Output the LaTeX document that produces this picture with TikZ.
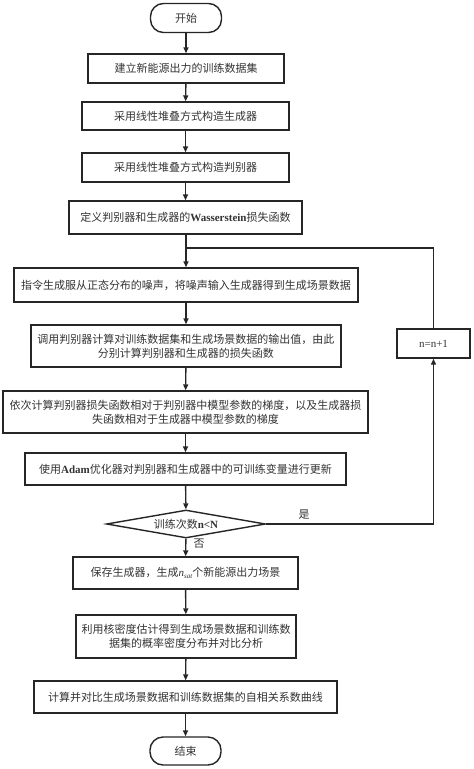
\documentclass[tikz,border=0pt]{standalone}
\usepackage{fontspec}
\newfontfamily\cjk{Noto Sans CJK SC}
\newfontfamily\tnr{Liberation Serif}
\usetikzlibrary{arrows.meta,shapes.geometric}
\begin{document}
\begin{tikzpicture}[x=1pt,y=-1pt,
  base/.style={draw=black!85,line width=1.4pt,inner sep=0pt,align=center,text=black!80,font=\cjk\fontsize{11}{14}\selectfont},
  procbox/.style={base,rectangle},
  term/.style={base,rectangle,rounded corners=13pt},
  decision/.style={base,diamond,aspect=5.7},
  arr/.style={line width=1.4pt,draw=black!85,-{Triangle[length=6pt,width=5pt]}},
  ln/.style={line width=1.4pt,draw=black!85},
  lbl/.style={text=black!80,font=\cjk\fontsize{11}{12}\selectfont,inner sep=0pt}]
\useasboundingbox[fill=white] (0,0) rectangle (474,769);

\node[term,minimum width=71pt,minimum height=29pt] (start) at (186,18) {开始};
\node[procbox,minimum width=196pt,minimum height=29pt] (b1) at (186,68.5) {建立新能源出力的训练数据集};
\node[procbox,minimum width=207pt,minimum height=28pt] (b2) at (185.5,116) {采用线性堆叠方式构造生成器};
\node[procbox,minimum width=207pt,minimum height=29pt] (b3) at (185.5,167.5) {采用线性堆叠方式构造判别器};
\node[procbox,minimum width=233pt,minimum height=33pt] (b4) at (185.5,217.5) {定义判别器和生成器的{\tnr\bfseries Wasserstein}损失函数};
\node[procbox,minimum width=344pt,minimum height=34pt] (b5) at (186,285) {指令生成服从正态分布的噪声，将噪声输入生成器得到生成场景数据};
\node[procbox,minimum width=310pt,minimum height=42pt] (b6) at (186,346) {调用判别器计算对训练数据集和生成场景数据的输出值，由此\\分别计算判别器和生成器的损失函数};
\node[procbox,minimum width=73pt,minimum height=29pt] (inc) at (433.5,343.5) {\tnr n=n+1};
\node[procbox,minimum width=365pt,minimum height=42pt] (b7) at (185.5,412) {依次计算判别器损失函数相对于判别器中模型参数的梯度，以及生成器损\\失函数相对于生成器中模型参数的梯度};
\node[procbox,minimum width=321pt,minimum height=32pt] (b8) at (185.5,469) {使用{\tnr\bfseries Adam}优化器对判别器和生成器中的可训练变量进行更新};
\node[decision,minimum width=159pt,minimum height=28pt] (dec) at (186,524) {训练次数{\tnr\bfseries n<N}};
\node[procbox,minimum width=225pt,minimum height=32pt] (b9) at (185.5,573) {保存生成器，生成{\tnr\itshape n\raisebox{-0.3ex}{\scriptsize sat}}个新能源出力场景};
\node[procbox,minimum width=220pt,minimum height=43pt] (b10) at (186,636.5) {利用核密度估计得到生成场景数据和训练数\\据集的概率密度分布并对比分析};
\node[procbox,minimum width=303pt,minimum height=32pt] (b11) at (185.5,697) {计算并对比生成场景数据和训练数据集的自相关系数曲线};
\node[term,minimum width=71pt,minimum height=28pt] (end) at (185.5,751) {结束};

\coordinate (j1) at (186,248);
\coordinate (j2) at (433.5,248);
\coordinate (j3) at (433.5,524);

\draw[arr] (start) -- (b1);
\draw[arr] (b1) -- (b2);
\draw[arr] (b2) -- (b3);
\draw[arr] (b3) -- (b4);
\draw[arr] (b4.south -| b5.north) -- (b5.north);
\draw[arr] (b5) -- (b6);
\draw[arr] (b6) -- (b7);
\draw[arr] (b7) -- (b8);
\draw[arr] (b8) -- (dec);
\draw[arr] (dec) -- (b9);
\draw[arr] (b9) -- (b10);
\draw[arr] (b10) -- (b11);
\draw[arr] (b11) -- (end);
\draw[arr] (dec.east) -- (j3) -- (inc.south);
\draw[ln] (inc.north) -- (j2) -- (j1);

\node[lbl] (yes) at (304,515) {是};
\node[lbl] (no) at (199,544) {否};
\end{tikzpicture}
\end{document}
